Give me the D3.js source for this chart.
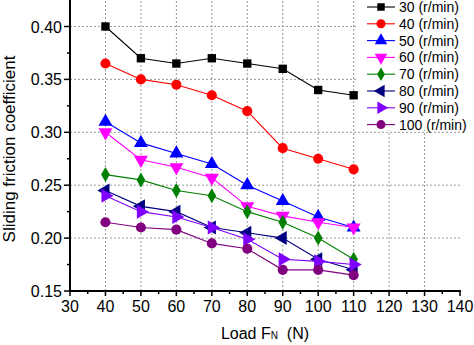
<!DOCTYPE html>
<html>
<head>
<meta charset="utf-8">
<script src="https://cdn.jsdelivr.net/npm/d3@7"></script>
<style>
  body { margin: 0; background: #fff; }
  svg { display: block; font-family: "Liberation Sans", Arial, sans-serif; }
</style>
</head>
<body>
<svg width="474" height="345"></svg>
<script>
var loads = [40, 50, 60, 70, 80, 90, 100, 110]
var speeds = ['30 (r/min)', '40 (r/min)', '50 (r/min)', '60 (r/min)', '70 (r/min)', '80 (r/min)', '90 (r/min)', '100 (r/min)']
var s30 = [0.400, 0.370, 0.365, 0.370, 0.365, 0.360, 0.340, 0.335]
var s40 = [0.365, 0.350, 0.345, 0.335, 0.320, 0.285, 0.275, 0.265]
var s50 = [0.310, 0.290, 0.280, 0.270, 0.250, 0.235, 0.220, 0.210]
var s60 = [0.300, 0.274, 0.267, 0.257, 0.230, 0.221, 0.215, 0.210]
var s70 = [0.260, 0.255, 0.245, 0.240, 0.225, 0.215, 0.200, 0.180]
var s80 = [0.245, 0.230, 0.225, 0.210, 0.205, 0.200, 0.180, 0.170]
var s90 = [0.240, 0.225, 0.220, 0.210, 0.199, 0.180, 0.178, 0.175]
var s100 = [0.215, 0.210, 0.208, 0.195, 0.190, 0.170, 0.170, 0.165]
var xTicks = [30, 40, 50, 60, 70, 80, 90, 100, 110, 120, 130, 140]
var yTicks = [0.15, 0.20, 0.25, 0.30, 0.35, 0.40]

var seriesValues = [s30, s40, s50, s60, s70, s80, s90, s100]
var colors = ['#000000', '#ff0000', '#0000ff', '#ff00ff', '#008000', '#000080', '#8000ff', '#800080']
// marker shape + rotation for each series
var shapes = [
  { t: d3.symbolSquare, r: 0, s: 70 },
  { t: d3.symbolCircle, r: 0, s: 80 },
  { t: d3.symbolTriangle, r: 0, s: 85 },
  { t: d3.symbolTriangle, r: 180, s: 85 },
  { t: d3.symbolDiamond, r: 0, s: 65 },
  { t: d3.symbolTriangle, r: -90, s: 85 },
  { t: d3.symbolTriangle, r: 90, s: 85 },
  { t: d3.symbolCircle, r: 0, s: 80 }
]

var svg = d3.select('svg')

var x = d3.scaleLinear().domain([30, 140]).range([70, 460])
var y = d3.scaleLinear().domain([0.15, 0.40]).range([291, 26.5])

// grid
var grid = svg.append('g')
grid.selectAll('line.gx')
    .data(xTicks.filter(function (d) { return d > 30 && d < 140 }))
    .enter()
    .append('line')
    .attr('x1', function (d) { return x(d) })
    .attr('x2', function (d) { return x(d) })
    .attr('y1', y(0.15))
    .attr('y2', 0)
    .attr('stroke', '#999')
    .attr('stroke-width', 1)
    .attr('stroke-dasharray', '2,2')
grid.selectAll('line.gy')
    .data(yTicks.filter(function (d) { return d > 0.15 }))
    .enter()
    .append('line')
    .attr('x1', x(30))
    .attr('x2', x(140))
    .attr('y1', function (d) { return y(d) })
    .attr('y2', function (d) { return y(d) })
    .attr('stroke', '#999')
    .attr('stroke-width', 1)
    .attr('stroke-dasharray', '2,2')

// legend background covers grid
svg.append('rect')
    .attr('x', 358).attr('y', 0)
    .attr('width', 116).attr('height', 130)
    .attr('fill', '#fff')

// axes
var xMinor = d3.range(35, 140, 10)
var yMinor = d3.range(0.175, 0.42, 0.05)

var axisG = svg.append('g')
axisG.selectAll('line.xmaj')
    .data(xTicks).enter().append('line')
    .attr('x1', function (d) { return x(d) }).attr('x2', function (d) { return x(d) })
    .attr('y1', y(0.15)).attr('y2', y(0.15) + 5)
    .attr('stroke', '#000').attr('stroke-width', 1.5)
axisG.selectAll('line.xmin')
    .data(xMinor).enter().append('line')
    .attr('x1', function (d) { return x(d) }).attr('x2', function (d) { return x(d) })
    .attr('y1', y(0.15)).attr('y2', y(0.15) + 3)
    .attr('stroke', '#000').attr('stroke-width', 1.5)
axisG.selectAll('line.ymaj')
    .data(yTicks).enter().append('line')
    .attr('x1', x(30) - 6).attr('x2', x(30))
    .attr('y1', function (d) { return y(d) }).attr('y2', function (d) { return y(d) })
    .attr('stroke', '#000').attr('stroke-width', 1.5)
axisG.selectAll('line.ymin')
    .data(yMinor).enter().append('line')
    .attr('x1', x(30) - 3).attr('x2', x(30))
    .attr('y1', function (d) { return y(d) }).attr('y2', function (d) { return y(d) })
    .attr('stroke', '#000').attr('stroke-width', 1.5)
axisG.append('line')
    .attr('x1', x(30)).attr('x2', x(30))
    .attr('y1', y(0.15) + 1).attr('y2', 0)
    .attr('stroke', '#000').attr('stroke-width', 2)
axisG.append('line')
    .attr('x1', x(30) - 1).attr('x2', x(140) + 1)
    .attr('y1', y(0.15)).attr('y2', y(0.15))
    .attr('stroke', '#000').attr('stroke-width', 2)

axisG.selectAll('text.xl')
    .data(xTicks).enter().append('text')
    .attr('x', function (d) { return x(d) })
    .attr('y', 312)
    .attr('text-anchor', 'middle')
    .attr('font-size', 16)
    .text(function (d) { return d })
axisG.selectAll('text.yl')
    .data(yTicks).enter().append('text')
    .attr('x', 62)
    .attr('y', function (d) { return y(d) + 6 })
    .attr('text-anchor', 'end')
    .attr('font-size', 16)
    .text(function (d) { return d3.format('.2f')(d) })

// axis titles
var xt = svg.append('text')
    .attr('x', 265).attr('y', 339)
    .attr('text-anchor', 'middle')
    .attr('font-size', 16)
xt.append('tspan').text('Load F')
xt.append('tspan').attr('font-size', 10).text('N')
xt.append('tspan').text('\u00a0 (N)')

svg.append('text')
    .attr('transform', 'translate(15,149) rotate(-90)')
    .attr('text-anchor', 'middle')
    .attr('font-size', 17)
    .text('Sliding friction coefficient')

// series
var line = d3.line()
    .x(function (d, i) { return x(loads[i]) })
    .y(function (d) { return y(d) })

var groups = svg.selectAll('g.series')
    .data(seriesValues)
    .enter()
    .append('g')
    .attr('class', 'series')

groups.append('path')
    .attr('d', function (d) { return line(d) })
    .attr('fill', 'none')
    .attr('stroke', function (d, i) { return colors[i] })
    .attr('stroke-width', 1.1)

groups.each(function (vals, k) {
  var sh = shapes[k]
  d3.select(this).selectAll('path.m')
      .data(vals)
      .enter()
      .append('path')
      .attr('d', d3.symbol().type(sh.t).size(sh.s))
      .attr('transform', function (d, i) {
        return 'translate(' + x(loads[i]) + ',' + y(d) + ') rotate(' + sh.r + ')'
      })
      .attr('fill', colors[k])
})

// legend
var leg = svg.selectAll('g.leg')
    .data(speeds)
    .enter()
    .append('g')
    .attr('transform', function (d, i) { return 'translate(0,' + (7 + i * 16.8) + ')' })
leg.append('line')
    .attr('x1', 367).attr('x2', 395)
    .attr('stroke', function (d, i) { return colors[i] })
    .attr('stroke-width', 1.1)
leg.append('path')
    .attr('d', function (d, i) { return d3.symbol().type(shapes[i].t).size(shapes[i].s * 0.8)() })
    .attr('transform', function (d, i) { return 'translate(381,0) rotate(' + shapes[i].r + ')' })
    .attr('fill', function (d, i) { return colors[i] })
leg.append('text')
    .attr('x', 399).attr('y', 5)
    .attr('font-size', 14)
    .text(function (d) { return d })
</script>
</body>
</html>
